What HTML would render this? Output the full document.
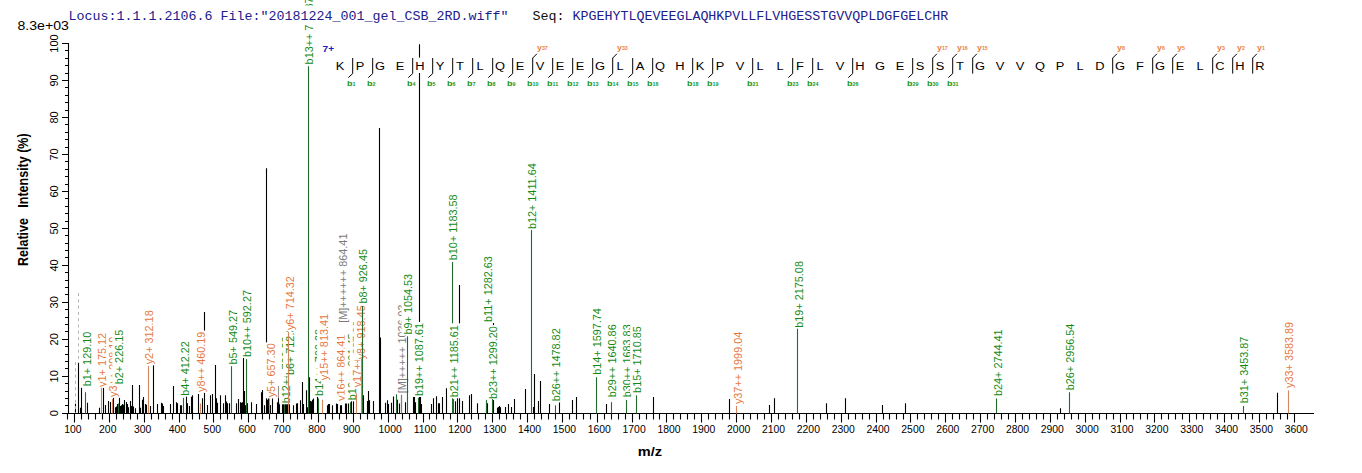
<!DOCTYPE html>
<html><head><meta charset="utf-8"><style>
html,body{margin:0;padding:0;background:#fff;width:1362px;height:473px;overflow:hidden}
svg{display:block}

</style></head><body>
<svg width="1362" height="473" viewBox="0 0 1362 473" font-family="Liberation Sans, sans-serif"><path d="M68.5 43 V413.5 M68 413.5 H1314 M62 413.50 H68.5 M65 405.50 H68.5 M65 398.50 H68.5 M65 391.50 H68.5 M65 383.50 H68.5 M62 376.50 H68.5 M65 368.50 H68.5 M65 361.50 H68.5 M65 354.50 H68.5 M65 346.50 H68.5 M62 339.50 H68.5 M65 331.50 H68.5 M65 324.50 H68.5 M65 317.50 H68.5 M65 309.50 H68.5 M62 302.50 H68.5 M65 294.50 H68.5 M65 287.50 H68.5 M65 280.50 H68.5 M65 272.50 H68.5 M62 265.50 H68.5 M65 257.50 H68.5 M65 250.50 H68.5 M65 243.50 H68.5 M65 235.50 H68.5 M62 228.50 H68.5 M65 221.50 H68.5 M65 213.50 H68.5 M65 206.50 H68.5 M65 198.50 H68.5 M62 191.50 H68.5 M65 184.50 H68.5 M65 176.50 H68.5 M65 169.50 H68.5 M65 161.50 H68.5 M62 154.50 H68.5 M65 147.50 H68.5 M65 139.50 H68.5 M65 132.50 H68.5 M65 124.50 H68.5 M62 117.50 H68.5 M65 110.50 H68.5 M65 102.50 H68.5 M65 95.50 H68.5 M65 87.50 H68.5 M62 80.50 H68.5 M65 73.50 H68.5 M65 65.50 H68.5 M65 58.50 H68.5 M65 50.50 H68.5 M62 43.50 H68.5 M67.50 413.5 V419.5 M74.50 413.5 V422.5 M81.50 413.5 V419.5 M88.50 413.5 V419.5 M95.50 413.5 V419.5 M102.50 413.5 V419.5 M109.50 413.5 V422.5 M116.50 413.5 V419.5 M123.50 413.5 V419.5 M130.50 413.5 V419.5 M137.50 413.5 V419.5 M144.50 413.5 V422.5 M151.50 413.5 V419.5 M158.50 413.5 V419.5 M165.50 413.5 V419.5 M172.50 413.5 V419.5 M179.50 413.5 V422.5 M186.50 413.5 V419.5 M192.50 413.5 V419.5 M199.50 413.5 V419.5 M206.50 413.5 V419.5 M213.50 413.5 V422.5 M220.50 413.5 V419.5 M227.50 413.5 V419.5 M234.50 413.5 V419.5 M241.50 413.5 V419.5 M248.50 413.5 V422.5 M255.50 413.5 V419.5 M262.50 413.5 V419.5 M269.50 413.5 V419.5 M276.50 413.5 V419.5 M283.50 413.5 V422.5 M290.50 413.5 V419.5 M297.50 413.5 V419.5 M304.50 413.5 V419.5 M311.50 413.5 V419.5 M318.50 413.5 V422.5 M325.50 413.5 V419.5 M332.50 413.5 V419.5 M339.50 413.5 V419.5 M346.50 413.5 V419.5 M353.50 413.5 V422.5 M360.50 413.5 V419.5 M367.50 413.5 V419.5 M374.50 413.5 V419.5 M381.50 413.5 V419.5 M388.50 413.5 V422.5 M395.50 413.5 V419.5 M402.50 413.5 V419.5 M409.50 413.5 V419.5 M416.50 413.5 V419.5 M423.50 413.5 V422.5 M429.50 413.5 V419.5 M436.50 413.5 V419.5 M443.50 413.5 V419.5 M450.50 413.5 V419.5 M457.50 413.5 V422.5 M464.50 413.5 V419.5 M471.50 413.5 V419.5 M478.50 413.5 V419.5 M485.50 413.5 V419.5 M492.50 413.5 V422.5 M499.50 413.5 V419.5 M506.50 413.5 V419.5 M513.50 413.5 V419.5 M520.50 413.5 V419.5 M527.50 413.5 V422.5 M534.50 413.5 V419.5 M541.50 413.5 V419.5 M548.50 413.5 V419.5 M555.50 413.5 V419.5 M562.50 413.5 V422.5 M569.50 413.5 V419.5 M576.50 413.5 V419.5 M583.50 413.5 V419.5 M590.50 413.5 V419.5 M597.50 413.5 V422.5 M604.50 413.5 V419.5 M611.50 413.5 V419.5 M618.50 413.5 V419.5 M625.50 413.5 V419.5 M632.50 413.5 V422.5 M639.50 413.5 V419.5 M646.50 413.5 V419.5 M653.50 413.5 V419.5 M659.50 413.5 V419.5 M666.50 413.5 V422.5 M673.50 413.5 V419.5 M680.50 413.5 V419.5 M687.50 413.5 V419.5 M694.50 413.5 V419.5 M701.50 413.5 V422.5 M708.50 413.5 V419.5 M715.50 413.5 V419.5 M722.50 413.5 V419.5 M729.50 413.5 V419.5 M736.50 413.5 V422.5 M743.50 413.5 V419.5 M750.50 413.5 V419.5 M757.50 413.5 V419.5 M764.50 413.5 V419.5 M771.50 413.5 V422.5 M778.50 413.5 V419.5 M785.50 413.5 V419.5 M792.50 413.5 V419.5 M799.50 413.5 V419.5 M806.50 413.5 V422.5 M813.50 413.5 V419.5 M820.50 413.5 V419.5 M827.50 413.5 V419.5 M834.50 413.5 V419.5 M841.50 413.5 V422.5 M848.50 413.5 V419.5 M855.50 413.5 V419.5 M862.50 413.5 V419.5 M869.50 413.5 V419.5 M876.50 413.5 V422.5 M883.50 413.5 V419.5 M889.50 413.5 V419.5 M896.50 413.5 V419.5 M903.50 413.5 V419.5 M910.50 413.5 V422.5 M917.50 413.5 V419.5 M924.50 413.5 V419.5 M931.50 413.5 V419.5 M938.50 413.5 V419.5 M945.50 413.5 V422.5 M952.50 413.5 V419.5 M959.50 413.5 V419.5 M966.50 413.5 V419.5 M973.50 413.5 V419.5 M980.50 413.5 V422.5 M987.50 413.5 V419.5 M994.50 413.5 V419.5 M1001.50 413.5 V419.5 M1008.50 413.5 V419.5 M1015.50 413.5 V422.5 M1022.50 413.5 V419.5 M1029.50 413.5 V419.5 M1036.50 413.5 V419.5 M1043.50 413.5 V419.5 M1050.50 413.5 V422.5 M1057.50 413.5 V419.5 M1064.50 413.5 V419.5 M1071.50 413.5 V419.5 M1078.50 413.5 V419.5 M1085.50 413.5 V422.5 M1092.50 413.5 V419.5 M1099.50 413.5 V419.5 M1106.50 413.5 V419.5 M1113.50 413.5 V419.5 M1120.50 413.5 V422.5 M1126.50 413.5 V419.5 M1133.50 413.5 V419.5 M1140.50 413.5 V419.5 M1147.50 413.5 V419.5 M1154.50 413.5 V422.5 M1161.50 413.5 V419.5 M1168.50 413.5 V419.5 M1175.50 413.5 V419.5 M1182.50 413.5 V419.5 M1189.50 413.5 V422.5 M1196.50 413.5 V419.5 M1203.50 413.5 V419.5 M1210.50 413.5 V419.5 M1217.50 413.5 V419.5 M1224.50 413.5 V422.5 M1231.50 413.5 V419.5 M1238.50 413.5 V419.5 M1245.50 413.5 V419.5 M1252.50 413.5 V419.5 M1259.50 413.5 V422.5 M1266.50 413.5 V419.5 M1273.50 413.5 V419.5 M1280.50 413.5 V419.5 M1287.50 413.5 V419.5 M1294.50 413.5 V422.5" stroke="#000" stroke-width="1.1" fill="none"/>
<g transform="translate(58.3,413.30) rotate(-90)"><text font-size="11" text-anchor="middle" fill="#000">0</text></g>
<g transform="translate(58.3,376.32) rotate(-90)"><text font-size="11" text-anchor="middle" fill="#000">10</text></g>
<g transform="translate(58.3,339.34) rotate(-90)"><text font-size="11" text-anchor="middle" fill="#000">20</text></g>
<g transform="translate(58.3,302.36) rotate(-90)"><text font-size="11" text-anchor="middle" fill="#000">30</text></g>
<g transform="translate(58.3,265.38) rotate(-90)"><text font-size="11" text-anchor="middle" fill="#000">40</text></g>
<g transform="translate(58.3,228.40) rotate(-90)"><text font-size="11" text-anchor="middle" fill="#000">50</text></g>
<g transform="translate(58.3,191.42) rotate(-90)"><text font-size="11" text-anchor="middle" fill="#000">60</text></g>
<g transform="translate(58.3,154.44) rotate(-90)"><text font-size="11" text-anchor="middle" fill="#000">70</text></g>
<g transform="translate(58.3,117.46) rotate(-90)"><text font-size="11" text-anchor="middle" fill="#000">80</text></g>
<g transform="translate(58.3,80.48) rotate(-90)"><text font-size="11" text-anchor="middle" fill="#000">90</text></g>
<g transform="translate(58.3,43.50) rotate(-90)"><text font-size="11" text-anchor="middle" fill="#000">100</text></g>
<g transform="translate(72.90,433.2) scale(1.02,1)"><text font-size="10.2" text-anchor="middle" fill="#000">100</text></g>
<g transform="translate(107.75,433.2) scale(1.02,1)"><text font-size="10.2" text-anchor="middle" fill="#000">200</text></g>
<g transform="translate(142.60,433.2) scale(1.02,1)"><text font-size="10.2" text-anchor="middle" fill="#000">300</text></g>
<g transform="translate(177.45,433.2) scale(1.02,1)"><text font-size="10.2" text-anchor="middle" fill="#000">400</text></g>
<g transform="translate(212.30,433.2) scale(1.02,1)"><text font-size="10.2" text-anchor="middle" fill="#000">500</text></g>
<g transform="translate(247.15,433.2) scale(1.02,1)"><text font-size="10.2" text-anchor="middle" fill="#000">600</text></g>
<g transform="translate(282.00,433.2) scale(1.02,1)"><text font-size="10.2" text-anchor="middle" fill="#000">700</text></g>
<g transform="translate(316.85,433.2) scale(1.02,1)"><text font-size="10.2" text-anchor="middle" fill="#000">800</text></g>
<g transform="translate(351.70,433.2) scale(1.02,1)"><text font-size="10.2" text-anchor="middle" fill="#000">900</text></g>
<g transform="translate(390.15,433.2) scale(1.02,1)"><text font-size="10.2" text-anchor="middle" fill="#000">1000</text></g>
<g transform="translate(425.00,433.2) scale(1.02,1)"><text font-size="10.2" text-anchor="middle" fill="#000">1100</text></g>
<g transform="translate(459.85,433.2) scale(1.02,1)"><text font-size="10.2" text-anchor="middle" fill="#000">1200</text></g>
<g transform="translate(494.70,433.2) scale(1.02,1)"><text font-size="10.2" text-anchor="middle" fill="#000">1300</text></g>
<g transform="translate(529.55,433.2) scale(1.02,1)"><text font-size="10.2" text-anchor="middle" fill="#000">1400</text></g>
<g transform="translate(564.40,433.2) scale(1.02,1)"><text font-size="10.2" text-anchor="middle" fill="#000">1500</text></g>
<g transform="translate(599.25,433.2) scale(1.02,1)"><text font-size="10.2" text-anchor="middle" fill="#000">1600</text></g>
<g transform="translate(634.10,433.2) scale(1.02,1)"><text font-size="10.2" text-anchor="middle" fill="#000">1700</text></g>
<g transform="translate(668.95,433.2) scale(1.02,1)"><text font-size="10.2" text-anchor="middle" fill="#000">1800</text></g>
<g transform="translate(703.80,433.2) scale(1.02,1)"><text font-size="10.2" text-anchor="middle" fill="#000">1900</text></g>
<g transform="translate(738.65,433.2) scale(1.02,1)"><text font-size="10.2" text-anchor="middle" fill="#000">2000</text></g>
<g transform="translate(773.50,433.2) scale(1.02,1)"><text font-size="10.2" text-anchor="middle" fill="#000">2100</text></g>
<g transform="translate(808.35,433.2) scale(1.02,1)"><text font-size="10.2" text-anchor="middle" fill="#000">2200</text></g>
<g transform="translate(843.20,433.2) scale(1.02,1)"><text font-size="10.2" text-anchor="middle" fill="#000">2300</text></g>
<g transform="translate(878.05,433.2) scale(1.02,1)"><text font-size="10.2" text-anchor="middle" fill="#000">2400</text></g>
<g transform="translate(912.90,433.2) scale(1.02,1)"><text font-size="10.2" text-anchor="middle" fill="#000">2500</text></g>
<g transform="translate(947.75,433.2) scale(1.02,1)"><text font-size="10.2" text-anchor="middle" fill="#000">2600</text></g>
<g transform="translate(982.60,433.2) scale(1.02,1)"><text font-size="10.2" text-anchor="middle" fill="#000">2700</text></g>
<g transform="translate(1017.45,433.2) scale(1.02,1)"><text font-size="10.2" text-anchor="middle" fill="#000">2800</text></g>
<g transform="translate(1052.30,433.2) scale(1.02,1)"><text font-size="10.2" text-anchor="middle" fill="#000">2900</text></g>
<g transform="translate(1087.15,433.2) scale(1.02,1)"><text font-size="10.2" text-anchor="middle" fill="#000">3000</text></g>
<g transform="translate(1122.00,433.2) scale(1.02,1)"><text font-size="10.2" text-anchor="middle" fill="#000">3100</text></g>
<g transform="translate(1156.85,433.2) scale(1.02,1)"><text font-size="10.2" text-anchor="middle" fill="#000">3200</text></g>
<g transform="translate(1191.70,433.2) scale(1.02,1)"><text font-size="10.2" text-anchor="middle" fill="#000">3300</text></g>
<g transform="translate(1226.55,433.2) scale(1.02,1)"><text font-size="10.2" text-anchor="middle" fill="#000">3400</text></g>
<g transform="translate(1261.40,433.2) scale(1.02,1)"><text font-size="10.2" text-anchor="middle" fill="#000">3500</text></g>
<g transform="translate(1296.25,433.2) scale(1.02,1)"><text font-size="10.2" text-anchor="middle" fill="#000">3600</text></g>
<path d="M75.50 413.5 V403.82 M78.50 413.5 V362.87 M80.50 413.5 V407.81 M81.50 413.5 V387.84 M87.50 413.5 V402.82 M99.50 413.5 V407.81 M103.50 413.5 V385.96 M105.50 413.5 V404.94 M108.50 413.5 V400.94 M110.50 413.5 V401.94 M113.50 413.5 V396.95 M115.50 413.5 V407.19 M116.50 413.5 V406.56 M117.50 413.5 V404.06 M119.50 413.5 V396.95 M120.50 413.5 V405.94 M121.50 413.5 V405.31 M122.50 413.5 V404.06 M123.50 413.5 V404.69 M124.50 413.5 V399.95 M126.50 413.5 V401.94 M127.50 413.5 V404.06 M128.50 413.5 V407.19 M130.50 413.5 V400.94 M131.50 413.5 V405.94 M132.50 413.5 V384.96 M133.50 413.5 V406.56 M135.50 413.5 V408.18 M139.50 413.5 V384.96 M140.50 413.5 V407.81 M142.50 413.5 V399.70 M143.50 413.5 V396.95 M145.50 413.5 V404.06 M146.50 413.5 V404.69 M150.50 413.5 V405.94 M153.50 413.5 V364.11 M157.50 413.5 V404.06 M161.50 413.5 V402.82 M162.50 413.5 V403.44 M163.50 413.5 V405.94 M170.50 413.5 V404.06 M173.50 413.5 V385.96 M176.50 413.5 V402.19 M177.50 413.5 V403.19 M180.50 413.5 V405.31 M181.50 413.5 V405.31 M186.50 413.5 V395.33 M187.50 413.5 V403.19 M189.50 413.5 V405.94 M191.50 413.5 V395.33 M192.50 413.5 V395.33 M198.50 413.5 V394.08 M202.50 413.5 V398.20 M207.50 413.5 V404.94 M210.50 413.5 V395.33 M212.50 413.5 V394.08 M215.50 413.5 V364.99 M216.50 413.5 V398.20 M217.50 413.5 V402.82 M220.50 413.5 V395.33 M223.50 413.5 V403.19 M225.50 413.5 V395.33 M226.50 413.5 V401.57 M227.50 413.5 V403.19 M229.50 413.5 V403.19 M236.50 413.5 V403.19 M204.50 413.5 V312.00 M236.50 413.5 V403.19 M238.50 413.5 V399.07 M240.50 413.5 V402.19 M241.50 413.5 V402.82 M242.50 413.5 V402.19 M243.50 413.5 V357.00 M244.50 413.5 V390.96 M245.50 413.5 V405.31 M247.50 413.5 V403.19 M251.50 413.5 V402.19 M256.50 413.5 V404.06 M261.50 413.5 V392.20 M262.50 413.5 V389.96 M264.50 413.5 V405.31 M266.50 413.5 V398.45 M267.50 413.5 V399.70 M268.50 413.5 V398.20 M270.50 413.5 V404.94 M272.50 413.5 V398.20 M277.50 413.5 V402.19 M278.50 413.5 V385.96 M279.50 413.5 V402.44 M282.50 413.5 V404.06 M283.50 413.5 V400.32 M285.50 413.5 V402.19 M286.50 413.5 V402.19 M287.50 413.5 V402.44 M289.50 413.5 V402.44 M293.50 413.5 V405.31 M296.50 413.5 V403.44 M297.50 413.5 V403.19 M300.50 413.5 V400.32 M302.50 413.5 V381.97 M303.50 413.5 V404.06 M306.50 413.5 V390.33 M307.50 413.5 V407.19 M309.50 413.5 V377.22 M310.50 413.5 V400.94 M311.50 413.5 V401.57 M312.50 413.5 V399.70 M313.50 413.5 V398.45 M317.50 413.5 V396.20 M266.50 413.5 V168.30 M327.50 413.5 V405.31 M328.50 413.5 V404.06 M329.50 413.5 V404.06 M332.50 413.5 V405.31 M336.50 413.5 V403.44 M337.50 413.5 V404.06 M340.50 413.5 V405.31 M341.50 413.5 V405.31 M345.50 413.5 V403.44 M346.50 413.5 V403.44 M346.50 413.5 V404.06 M348.50 413.5 V403.44 M351.50 413.5 V400.94 M353.50 413.5 V400.94 M363.50 413.5 V395.33 M367.50 413.5 V400.94 M368.50 413.5 V390.96 M369.50 413.5 V400.32 M373.50 413.5 V400.94 M385.50 413.5 V402.82 M387.50 413.5 V400.32 M388.50 413.5 V404.06 M391.50 413.5 V402.82 M393.50 413.5 V396.57 M397.50 413.5 V399.70 M399.50 413.5 V403.44 M379.50 413.5 V128.00 M380.50 413.5 V337.60 M401.50 413.5 V395.33 M405.50 413.5 V402.19 M413.50 413.5 V395.95 M414.50 413.5 V396.20 M415.50 413.5 V402.19 M420.50 413.5 V395.95 M421.50 413.5 V404.06 M431.50 413.5 V404.06 M433.50 413.5 V398.20 M436.50 413.5 V396.20 M438.50 413.5 V403.19 M439.50 413.5 V403.19 M442.50 413.5 V396.95 M446.50 413.5 V388.21 M455.50 413.5 V401.19 M457.50 413.5 V397.20 M462.50 413.5 V400.94 M469.50 413.5 V395.33 M471.50 413.5 V394.08 M477.50 413.5 V403.19 M419.50 413.5 V44.30 M459.50 413.5 V285.00 M486.50 413.5 V403.19 M493.50 413.5 V399.70 M497.50 413.5 V407.81 M498.50 413.5 V406.94 M499.50 413.5 V405.94 M500.50 413.5 V407.19 M505.50 413.5 V406.94 M508.50 413.5 V404.06 M511.50 413.5 V406.94 M514.50 413.5 V399.07 M525.50 413.5 V389.08 M533.50 413.5 V406.94 M534.50 413.5 V374.10 M538.50 413.5 V400.94 M540.50 413.5 V380.97 M549.50 413.5 V404.06 M559.50 413.5 V402.19 M572.50 413.5 V399.95 M576.50 413.5 V396.95 M606.50 413.5 V404.06 M653.50 413.5 V396.95 M729.50 413.5 V399.07 M769.50 413.5 V404.94 M774.50 413.5 V398.20 M826.50 413.5 V403.19 M845.50 413.5 V398.20 M882.50 413.5 V405.06 M905.50 413.5 V403.19 M1060.50 413.5 V408.18 M1277.50 413.5 V392.83 M493.50 413.5 V322.60 M487.50 413.5 V403.20" stroke="#000" stroke-width="1.1" fill="none"/>
<path d="M78.5 293 V362" stroke="#b4b4b4" stroke-width="1" stroke-dasharray="3 3.3" fill="none"/>
<path d="M75.5 362 V413" stroke="#b4b4b4" stroke-width="1" stroke-dasharray="3 3.3" fill="none"/>
<g transform="translate(90.80,386.30) scale(1.0,1) rotate(-90)"><rect x="-1" y="-10.85" width="56.60" height="14.11" fill="#fff"/><text font-size="10.85" fill="#118a14" xml:space="preserve">b1+ 129.10</text></g>
<path d="M85.50 413.5 V392.20" stroke="#236a2c" stroke-width="1.1" fill="none"/>
<g transform="translate(106.00,386.90) scale(1.0,1) rotate(-90)"><rect x="-1" y="-10.85" width="56.00" height="14.11" fill="#fff"/><text font-size="10.85" fill="#e6773c" xml:space="preserve">y1+ 175.12</text></g>
<path d="M101.50 413.5 V387.84" stroke="#d2875f" stroke-width="1.1" fill="none"/>
<g transform="translate(117.40,396.90) scale(1.0,1) rotate(-90)"><rect x="-1" y="-10.85" width="62.33" height="14.11" fill="#fff"/><text font-size="10.85" fill="#e6773c" xml:space="preserve">y3++ 208.10</text></g>
<path d="M112.50 413.5 V399.07" stroke="#d2875f" stroke-width="1.1" fill="none"/>
<path d="M118.50 413.5 V403.44" stroke="#236a2c" stroke-width="1.1" fill="none"/>
<g transform="translate(123.20,384.30) scale(1.0,1) rotate(-90)"><rect x="-1" y="-10.85" width="56.60" height="14.11" fill="#fff"/><text font-size="10.85" fill="#118a14" xml:space="preserve">b2+ 226.15</text></g>
<g transform="translate(153.00,364.30) scale(1.0,1) rotate(-90)"><rect x="-1" y="-10.85" width="56.00" height="14.11" fill="#fff"/><text font-size="10.85" fill="#e6773c" xml:space="preserve">y2+ 312.18</text></g>
<path d="M148.50 413.5 V365.99" stroke="#d2875f" stroke-width="1.1" fill="none"/>
<g transform="translate(188.80,395.70) scale(1.0,1) rotate(-90)"><rect x="-1" y="-10.85" width="56.60" height="14.11" fill="#fff"/><text font-size="10.85" fill="#118a14" xml:space="preserve">b4+ 412.22</text></g>
<path d="M183.50 413.5 V397.82" stroke="#236a2c" stroke-width="1.1" fill="none"/>
<g transform="translate(205.00,391.90) scale(1.0,1) rotate(-90)"><rect x="-1" y="-10.85" width="62.33" height="14.11" fill="#fff"/><text font-size="10.85" fill="#e6773c" xml:space="preserve">y8++ 460.19</text></g>
<path d="M200.50 413.5 V403.44" stroke="#d2875f" stroke-width="1.1" fill="none"/>
<g transform="translate(236.80,364.50) scale(1.0,1) rotate(-90)"><rect x="-1" y="-10.85" width="56.60" height="14.11" fill="#fff"/><text font-size="10.85" fill="#118a14" xml:space="preserve">b5+ 549.27</text></g>
<path d="M231.50 413.5 V366.24" stroke="#236a2c" stroke-width="1.1" fill="none"/>
<g transform="translate(251.20,357.00) scale(1.0,1) rotate(-90)"><rect x="-1" y="-10.85" width="68.98" height="14.11" fill="#fff"/><text font-size="10.85" fill="#118a14" xml:space="preserve">b10++ 592.27</text></g>
<path d="M246.50 413.5 V359.12" stroke="#236a2c" stroke-width="1.1" fill="none"/>
<g transform="translate(275.30,397.30) scale(1.0,1) rotate(-90)"><rect x="-1" y="-10.85" width="56.00" height="14.11" fill="#fff"/><text font-size="10.85" fill="#e6773c" xml:space="preserve">y5+ 657.30</text></g>
<path d="M269.50 413.5 V398.45" stroke="#d2875f" stroke-width="1.1" fill="none"/>
<path d="M284.50 413.5 V404.06" stroke="#236a2c" stroke-width="1.1" fill="none"/>
<g transform="translate(290.10,403.30) scale(1.0,1) rotate(-90)"><rect x="-1" y="-10.85" width="68.98" height="14.11" fill="#fff"/><text font-size="10.85" fill="#118a14" xml:space="preserve">b12++ 706.33</text></g>
<g transform="translate(293.80,375.10) scale(1.0,1) rotate(-90)"><rect x="-1" y="-10.85" width="56.60" height="14.11" fill="#fff"/><text font-size="10.85" fill="#118a14" xml:space="preserve">b6+ 712.34</text></g>
<g transform="translate(293.80,330.10) scale(1.0,1) rotate(-90)"><rect x="-1" y="-10.85" width="56.00" height="14.11" fill="#fff"/><text font-size="10.85" fill="#e6773c" xml:space="preserve">y6+ 714.32</text></g>
<path d="M288.50 413.5 V332.00" stroke="#d2875f" stroke-width="1.1" fill="none"/>
<g transform="translate(313.00,64.40) scale(1.0,1) rotate(-90)"><rect x="-1" y="-10.85" width="68.98" height="14.11" fill="#fff"/><text font-size="10.85" fill="#118a14" xml:space="preserve">b13++ 770.87</text></g>
<path d="M308.50 413.5 V66.20" stroke="#236a2c" stroke-width="1.1" fill="none"/>
<g transform="translate(323.00,395.90) scale(1.0,1) rotate(-90)"><rect x="-1" y="-10.85" width="68.98" height="14.11" fill="#fff"/><text font-size="10.85" fill="#118a14" xml:space="preserve">b14++ 799.38</text></g>
<path d="M318.50 413.5 V398.45" stroke="#236a2c" stroke-width="1.1" fill="none"/>
<path d="M322.50 413.5 V399.70" stroke="#d2875f" stroke-width="1.1" fill="none"/>
<g transform="translate(328.00,380.30) scale(1.0,1) rotate(-90)"><rect x="-1" y="-10.85" width="68.37" height="14.11" fill="#fff"/><text font-size="10.85" fill="#e6773c" xml:space="preserve">y15++ 813.41</text></g>
<g transform="translate(345.00,401.00) scale(1.0,1) rotate(-90)"><rect x="-1" y="-10.85" width="68.37" height="14.11" fill="#fff"/><text font-size="10.85" fill="#e6773c" xml:space="preserve">y16++ 864.41</text></g>
<g transform="translate(347.00,322.80) scale(1.0,1) rotate(-90)"><rect x="-1" y="-10.85" width="91.28" height="14.11" fill="#fff"/><text font-size="10.85" fill="#7a7a7a" xml:space="preserve">[M]++++++ 864.41</text></g>
<g transform="translate(355.50,400.30) scale(1.0,1) rotate(-90)"><rect x="-1" y="-10.85" width="68.98" height="14.11" fill="#fff"/><text font-size="10.85" fill="#118a14" xml:space="preserve">b16++ 891.45</text></g>
<path d="M350.50 413.5 V402.19" stroke="#236a2c" stroke-width="1.1" fill="none"/>
<g transform="translate(360.50,387.30) scale(1.0,1) rotate(-90)"><rect x="-1" y="-10.85" width="68.37" height="14.11" fill="#fff"/><text font-size="10.85" fill="#e6773c" xml:space="preserve">y17++ 907.96</text></g>
<path d="M356.50 413.5 V393.45" stroke="#d2875f" stroke-width="1.1" fill="none"/>
<g transform="translate(364.80,359.30) scale(1.0,1) rotate(-90)"><rect x="-1" y="-10.85" width="56.00" height="14.11" fill="#fff"/><text font-size="10.85" fill="#e6773c" xml:space="preserve">y8+ 918.45</text></g>
<path d="M361.50 413.5 V358.50" stroke="#d2875f" stroke-width="1.1" fill="none"/>
<path d="M362.50 413.5 V306.00" stroke="#236a2c" stroke-width="1.1" fill="none"/>
<g transform="translate(367.20,303.60) scale(1.0,1) rotate(-90)"><rect x="-1" y="-10.85" width="56.60" height="14.11" fill="#fff"/><text font-size="10.85" fill="#118a14" xml:space="preserve">b8+ 926.45</text></g>
<path d="M396.50 413.5 V392.83" stroke="#236a2c" stroke-width="1.1" fill="none"/>
<g transform="translate(406.00,393.30) scale(1.0,1) rotate(-90)"><rect x="-1" y="-10.85" width="90.98" height="14.11" fill="#fff"/><text font-size="10.85" fill="#7a7a7a" xml:space="preserve">[M]+++++ 1036.93</text></g>
<path d="M401.50 413.5 V394.70" stroke="#808080" stroke-width="1.1" fill="none"/>
<g transform="translate(412.30,334.50) scale(1.0,1) rotate(-90)"><rect x="-1" y="-10.85" width="62.64" height="14.11" fill="#fff"/><text font-size="10.85" fill="#118a14" xml:space="preserve">b9+ 1054.53</text></g>
<path d="M407.50 413.5 V336.30" stroke="#236a2c" stroke-width="1.1" fill="none"/>
<path d="M418.50 413.5 V397.82" stroke="#236a2c" stroke-width="1.1" fill="none"/>
<g transform="translate(423.30,396.00) scale(1.0,1) rotate(-90)"><rect x="-1" y="-10.85" width="75.01" height="14.11" fill="#fff"/><text font-size="10.85" fill="#118a14" xml:space="preserve">b19++ 1087.61</text></g>
<g transform="translate(457.40,260.20) scale(1.0,1) rotate(-90)"><rect x="-1" y="-10.85" width="68.67" height="14.11" fill="#fff"/><text font-size="10.85" fill="#118a14" xml:space="preserve">b10+ 1183.58</text></g>
<path d="M452.50 413.5 V262.00" stroke="#236a2c" stroke-width="1.1" fill="none"/>
<g transform="translate(458.00,397.30) scale(1.0,1) rotate(-90)"><rect x="-1" y="-10.85" width="75.01" height="14.11" fill="#fff"/><text font-size="10.85" fill="#118a14" xml:space="preserve">b21++ 1185.61</text></g>
<path d="M453.50 413.5 V399.07" stroke="#236a2c" stroke-width="1.1" fill="none"/>
<path d="M486.50 413.5 V399.07" stroke="#236a2c" stroke-width="1.1" fill="none"/>
<g transform="translate(491.60,322.00) scale(1.0,1) rotate(-90)"><rect x="-1" y="-10.85" width="68.67" height="14.11" fill="#fff"/><text font-size="10.85" fill="#118a14" xml:space="preserve">b11+ 1282.63</text></g>
<g transform="translate(497.00,399.10) scale(1.0,1) rotate(-90)"><rect x="-1" y="-10.85" width="75.01" height="14.11" fill="#fff"/><text font-size="10.85" fill="#118a14" xml:space="preserve">b23++ 1299.20</text></g>
<path d="M492.50 413.5 V399.07" stroke="#236a2c" stroke-width="1.1" fill="none"/>
<g transform="translate(536.00,229.10) scale(1.0,1) rotate(-90)"><rect x="-1" y="-10.85" width="68.67" height="14.11" fill="#fff"/><text font-size="10.85" fill="#118a14" xml:space="preserve">b12+ 1411.64</text></g>
<path d="M531.50 413.5 V230.00" stroke="#236a2c" stroke-width="1.1" fill="none"/>
<g transform="translate(560.30,401.30) scale(1.0,1) rotate(-90)"><rect x="-1" y="-10.85" width="75.01" height="14.11" fill="#fff"/><text font-size="10.85" fill="#118a14" xml:space="preserve">b26++ 1478.82</text></g>
<path d="M555.50 413.5 V405.31" stroke="#236a2c" stroke-width="1.1" fill="none"/>
<g transform="translate(601.00,374.80) scale(1.0,1) rotate(-90)"><rect x="-1" y="-10.85" width="68.67" height="14.11" fill="#fff"/><text font-size="10.85" fill="#118a14" xml:space="preserve">b14+ 1597.74</text></g>
<path d="M596.50 413.5 V377.22" stroke="#236a2c" stroke-width="1.1" fill="none"/>
<path d="M611.50 413.5 V402.19" stroke="#236a2c" stroke-width="1.1" fill="none"/>
<g transform="translate(615.50,397.30) scale(1.0,1) rotate(-90)"><rect x="-1" y="-10.85" width="75.01" height="14.11" fill="#fff"/><text font-size="10.85" fill="#118a14" xml:space="preserve">b29++ 1640.86</text></g>
<path d="M626.50 413.5 V399.95" stroke="#236a2c" stroke-width="1.1" fill="none"/>
<g transform="translate(630.80,397.30) scale(1.0,1) rotate(-90)"><rect x="-1" y="-10.85" width="75.01" height="14.11" fill="#fff"/><text font-size="10.85" fill="#118a14" xml:space="preserve">b30++ 1683.83</text></g>
<g transform="translate(641.00,392.90) scale(1.0,1) rotate(-90)"><rect x="-1" y="-10.85" width="68.67" height="14.11" fill="#fff"/><text font-size="10.85" fill="#118a14" xml:space="preserve">b15+ 1710.85</text></g>
<path d="M636.50 413.5 V395.33" stroke="#236a2c" stroke-width="1.1" fill="none"/>
<g transform="translate(742.10,404.10) scale(1.0,1) rotate(-90)"><rect x="-1" y="-10.85" width="74.40" height="14.11" fill="#fff"/><text font-size="10.85" fill="#e6773c" xml:space="preserve">y37++ 1999.04</text></g>
<path d="M736.50 413.5 V405.94" stroke="#d2875f" stroke-width="1.1" fill="none"/>
<path d="M797.50 413.5 V328.00" stroke="#236a2c" stroke-width="1.1" fill="none"/>
<g transform="translate(803.00,327.70) scale(1.0,1) rotate(-90)"><rect x="-1" y="-10.85" width="68.67" height="14.11" fill="#fff"/><text font-size="10.85" fill="#118a14" xml:space="preserve">b19+ 2175.08</text></g>
<g transform="translate(1001.80,396.00) scale(1.0,1) rotate(-90)"><rect x="-1" y="-10.85" width="68.67" height="14.11" fill="#fff"/><text font-size="10.85" fill="#118a14" xml:space="preserve">b24+ 2744.41</text></g>
<path d="M996.50 413.5 V398.45" stroke="#236a2c" stroke-width="1.1" fill="none"/>
<path d="M1069.50 413.5 V392.20" stroke="#236a2c" stroke-width="1.1" fill="none"/>
<g transform="translate(1074.30,390.30) scale(1.0,1) rotate(-90)"><rect x="-1" y="-10.85" width="68.67" height="14.11" fill="#fff"/><text font-size="10.85" fill="#118a14" xml:space="preserve">b26+ 2956.54</text></g>
<g transform="translate(1248.10,403.30) scale(1.0,1) rotate(-90)"><rect x="-1" y="-10.85" width="68.67" height="14.11" fill="#fff"/><text font-size="10.85" fill="#118a14" xml:space="preserve">b31+ 3453.87</text></g>
<path d="M1243.50 413.5 V405.94" stroke="#236a2c" stroke-width="1.1" fill="none"/>
<path d="M1288.50 413.5 V390.33" stroke="#d2875f" stroke-width="1.1" fill="none"/>
<g transform="translate(1293.00,387.90) scale(1.0,1) rotate(-90)"><rect x="-1" y="-10.85" width="68.06" height="14.11" fill="#fff"/><text font-size="10.85" fill="#e6773c" xml:space="preserve">y33+ 3583.89</text></g>
<g transform="translate(322.6,52.4) scale(1.12,1)"><text font-size="9" font-weight="bold" fill="#2020c0">7+</text></g>
<rect x="334.00" y="57.6" width="12" height="15.4" fill="#fff"/>
<g transform="translate(340.00,69.8) scale(1.12,1)"><text font-size="11.5" text-anchor="middle" fill="#000">K</text></g>
<rect x="354.00" y="57.6" width="12" height="15.4" fill="#fff"/>
<g transform="translate(360.00,69.8) scale(1.12,1)"><text font-size="11.5" text-anchor="middle" fill="#000">P</text></g>
<rect x="374.00" y="57.6" width="12" height="15.4" fill="#fff"/>
<g transform="translate(380.00,69.8) scale(1.12,1)"><text font-size="11.5" text-anchor="middle" fill="#000">G</text></g>
<rect x="394.00" y="57.6" width="12" height="15.4" fill="#fff"/>
<g transform="translate(400.00,69.8) scale(1.12,1)"><text font-size="11.5" text-anchor="middle" fill="#000">E</text></g>
<rect x="414.00" y="57.6" width="12" height="15.4" fill="#fff"/>
<g transform="translate(420.00,69.8) scale(1.12,1)"><text font-size="11.5" text-anchor="middle" fill="#000">H</text></g>
<rect x="434.00" y="57.6" width="12" height="15.4" fill="#fff"/>
<g transform="translate(440.00,69.8) scale(1.12,1)"><text font-size="11.5" text-anchor="middle" fill="#000">Y</text></g>
<rect x="454.00" y="57.6" width="12" height="15.4" fill="#fff"/>
<g transform="translate(460.00,69.8) scale(1.12,1)"><text font-size="11.5" text-anchor="middle" fill="#000">T</text></g>
<rect x="474.00" y="57.6" width="12" height="15.4" fill="#fff"/>
<g transform="translate(480.00,69.8) scale(1.12,1)"><text font-size="11.5" text-anchor="middle" fill="#000">L</text></g>
<rect x="494.00" y="57.6" width="12" height="15.4" fill="#fff"/>
<g transform="translate(500.00,69.8) scale(1.12,1)"><text font-size="11.5" text-anchor="middle" fill="#000">Q</text></g>
<rect x="514.00" y="57.6" width="12" height="15.4" fill="#fff"/>
<g transform="translate(520.00,69.8) scale(1.12,1)"><text font-size="11.5" text-anchor="middle" fill="#000">E</text></g>
<rect x="534.00" y="57.6" width="12" height="15.4" fill="#fff"/>
<g transform="translate(540.00,69.8) scale(1.12,1)"><text font-size="11.5" text-anchor="middle" fill="#000">V</text></g>
<rect x="554.00" y="57.6" width="12" height="15.4" fill="#fff"/>
<g transform="translate(560.00,69.8) scale(1.12,1)"><text font-size="11.5" text-anchor="middle" fill="#000">E</text></g>
<rect x="574.00" y="57.6" width="12" height="15.4" fill="#fff"/>
<g transform="translate(580.00,69.8) scale(1.12,1)"><text font-size="11.5" text-anchor="middle" fill="#000">E</text></g>
<rect x="594.00" y="57.6" width="12" height="15.4" fill="#fff"/>
<g transform="translate(600.00,69.8) scale(1.12,1)"><text font-size="11.5" text-anchor="middle" fill="#000">G</text></g>
<rect x="614.00" y="57.6" width="12" height="15.4" fill="#fff"/>
<g transform="translate(620.00,69.8) scale(1.12,1)"><text font-size="11.5" text-anchor="middle" fill="#000">L</text></g>
<rect x="634.00" y="57.6" width="12" height="15.4" fill="#fff"/>
<g transform="translate(640.00,69.8) scale(1.12,1)"><text font-size="11.5" text-anchor="middle" fill="#000">A</text></g>
<rect x="654.00" y="57.6" width="12" height="15.4" fill="#fff"/>
<g transform="translate(660.00,69.8) scale(1.12,1)"><text font-size="11.5" text-anchor="middle" fill="#000">Q</text></g>
<rect x="674.00" y="57.6" width="12" height="15.4" fill="#fff"/>
<g transform="translate(680.00,69.8) scale(1.12,1)"><text font-size="11.5" text-anchor="middle" fill="#000">H</text></g>
<rect x="694.00" y="57.6" width="12" height="15.4" fill="#fff"/>
<g transform="translate(700.00,69.8) scale(1.12,1)"><text font-size="11.5" text-anchor="middle" fill="#000">K</text></g>
<rect x="714.00" y="57.6" width="12" height="15.4" fill="#fff"/>
<g transform="translate(720.00,69.8) scale(1.12,1)"><text font-size="11.5" text-anchor="middle" fill="#000">P</text></g>
<rect x="734.00" y="57.6" width="12" height="15.4" fill="#fff"/>
<g transform="translate(740.00,69.8) scale(1.12,1)"><text font-size="11.5" text-anchor="middle" fill="#000">V</text></g>
<rect x="754.00" y="57.6" width="12" height="15.4" fill="#fff"/>
<g transform="translate(760.00,69.8) scale(1.12,1)"><text font-size="11.5" text-anchor="middle" fill="#000">L</text></g>
<rect x="774.00" y="57.6" width="12" height="15.4" fill="#fff"/>
<g transform="translate(780.00,69.8) scale(1.12,1)"><text font-size="11.5" text-anchor="middle" fill="#000">L</text></g>
<rect x="794.00" y="57.6" width="12" height="15.4" fill="#fff"/>
<g transform="translate(800.00,69.8) scale(1.12,1)"><text font-size="11.5" text-anchor="middle" fill="#000">F</text></g>
<rect x="814.00" y="57.6" width="12" height="15.4" fill="#fff"/>
<g transform="translate(820.00,69.8) scale(1.12,1)"><text font-size="11.5" text-anchor="middle" fill="#000">L</text></g>
<rect x="834.00" y="57.6" width="12" height="15.4" fill="#fff"/>
<g transform="translate(840.00,69.8) scale(1.12,1)"><text font-size="11.5" text-anchor="middle" fill="#000">V</text></g>
<rect x="854.00" y="57.6" width="12" height="15.4" fill="#fff"/>
<g transform="translate(860.00,69.8) scale(1.12,1)"><text font-size="11.5" text-anchor="middle" fill="#000">H</text></g>
<rect x="874.00" y="57.6" width="12" height="15.4" fill="#fff"/>
<g transform="translate(880.00,69.8) scale(1.12,1)"><text font-size="11.5" text-anchor="middle" fill="#000">G</text></g>
<rect x="894.00" y="57.6" width="12" height="15.4" fill="#fff"/>
<g transform="translate(900.00,69.8) scale(1.12,1)"><text font-size="11.5" text-anchor="middle" fill="#000">E</text></g>
<rect x="914.00" y="57.6" width="12" height="15.4" fill="#fff"/>
<g transform="translate(920.00,69.8) scale(1.12,1)"><text font-size="11.5" text-anchor="middle" fill="#000">S</text></g>
<rect x="934.00" y="57.6" width="12" height="15.4" fill="#fff"/>
<g transform="translate(940.00,69.8) scale(1.12,1)"><text font-size="11.5" text-anchor="middle" fill="#000">S</text></g>
<rect x="954.00" y="57.6" width="12" height="15.4" fill="#fff"/>
<g transform="translate(960.00,69.8) scale(1.12,1)"><text font-size="11.5" text-anchor="middle" fill="#000">T</text></g>
<rect x="974.00" y="57.6" width="12" height="15.4" fill="#fff"/>
<g transform="translate(980.00,69.8) scale(1.12,1)"><text font-size="11.5" text-anchor="middle" fill="#000">G</text></g>
<rect x="994.00" y="57.6" width="12" height="15.4" fill="#fff"/>
<g transform="translate(1000.00,69.8) scale(1.12,1)"><text font-size="11.5" text-anchor="middle" fill="#000">V</text></g>
<rect x="1014.00" y="57.6" width="12" height="15.4" fill="#fff"/>
<g transform="translate(1020.00,69.8) scale(1.12,1)"><text font-size="11.5" text-anchor="middle" fill="#000">V</text></g>
<rect x="1034.00" y="57.6" width="12" height="15.4" fill="#fff"/>
<g transform="translate(1040.00,69.8) scale(1.12,1)"><text font-size="11.5" text-anchor="middle" fill="#000">Q</text></g>
<rect x="1054.00" y="57.6" width="12" height="15.4" fill="#fff"/>
<g transform="translate(1060.00,69.8) scale(1.12,1)"><text font-size="11.5" text-anchor="middle" fill="#000">P</text></g>
<rect x="1074.00" y="57.6" width="12" height="15.4" fill="#fff"/>
<g transform="translate(1080.00,69.8) scale(1.12,1)"><text font-size="11.5" text-anchor="middle" fill="#000">L</text></g>
<rect x="1094.00" y="57.6" width="12" height="15.4" fill="#fff"/>
<g transform="translate(1100.00,69.8) scale(1.12,1)"><text font-size="11.5" text-anchor="middle" fill="#000">D</text></g>
<rect x="1114.00" y="57.6" width="12" height="15.4" fill="#fff"/>
<g transform="translate(1120.00,69.8) scale(1.12,1)"><text font-size="11.5" text-anchor="middle" fill="#000">G</text></g>
<rect x="1134.00" y="57.6" width="12" height="15.4" fill="#fff"/>
<g transform="translate(1140.00,69.8) scale(1.12,1)"><text font-size="11.5" text-anchor="middle" fill="#000">F</text></g>
<rect x="1154.00" y="57.6" width="12" height="15.4" fill="#fff"/>
<g transform="translate(1160.00,69.8) scale(1.12,1)"><text font-size="11.5" text-anchor="middle" fill="#000">G</text></g>
<rect x="1174.00" y="57.6" width="12" height="15.4" fill="#fff"/>
<g transform="translate(1180.00,69.8) scale(1.12,1)"><text font-size="11.5" text-anchor="middle" fill="#000">E</text></g>
<rect x="1194.00" y="57.6" width="12" height="15.4" fill="#fff"/>
<g transform="translate(1200.00,69.8) scale(1.12,1)"><text font-size="11.5" text-anchor="middle" fill="#000">L</text></g>
<rect x="1214.00" y="57.6" width="12" height="15.4" fill="#fff"/>
<g transform="translate(1220.00,69.8) scale(1.12,1)"><text font-size="11.5" text-anchor="middle" fill="#000">C</text></g>
<rect x="1234.00" y="57.6" width="12" height="15.4" fill="#fff"/>
<g transform="translate(1240.00,69.8) scale(1.12,1)"><text font-size="11.5" text-anchor="middle" fill="#000">H</text></g>
<rect x="1254.00" y="57.6" width="12" height="15.4" fill="#fff"/>
<g transform="translate(1260.00,69.8) scale(1.12,1)"><text font-size="11.5" text-anchor="middle" fill="#000">R</text></g>
<g transform="translate(347.10,86.2) scale(1.12,1)"><text font-size="8" font-weight="bold" fill="#17941a">b<tspan font-size="4.8">1</tspan></text></g>
<g transform="translate(367.10,86.2) scale(1.12,1)"><text font-size="8" font-weight="bold" fill="#17941a">b<tspan font-size="4.8">2</tspan></text></g>
<g transform="translate(407.10,86.2) scale(1.12,1)"><text font-size="8" font-weight="bold" fill="#17941a">b<tspan font-size="4.8">4</tspan></text></g>
<g transform="translate(427.10,86.2) scale(1.12,1)"><text font-size="8" font-weight="bold" fill="#17941a">b<tspan font-size="4.8">5</tspan></text></g>
<g transform="translate(447.10,86.2) scale(1.12,1)"><text font-size="8" font-weight="bold" fill="#17941a">b<tspan font-size="4.8">6</tspan></text></g>
<g transform="translate(467.10,86.2) scale(1.12,1)"><text font-size="8" font-weight="bold" fill="#17941a">b<tspan font-size="4.8">7</tspan></text></g>
<g transform="translate(487.10,86.2) scale(1.12,1)"><text font-size="8" font-weight="bold" fill="#17941a">b<tspan font-size="4.8">8</tspan></text></g>
<g transform="translate(507.10,86.2) scale(1.12,1)"><text font-size="8" font-weight="bold" fill="#17941a">b<tspan font-size="4.8">9</tspan></text></g>
<g transform="translate(527.10,86.2) scale(1.12,1)"><text font-size="8" font-weight="bold" fill="#17941a">b<tspan font-size="4.8">10</tspan></text></g>
<g transform="translate(536.90,50) scale(1.12,1)"><text font-size="8" font-weight="bold" fill="#ec8448">y<tspan font-size="4.8">37</tspan></text></g>
<g transform="translate(547.10,86.2) scale(1.12,1)"><text font-size="8" font-weight="bold" fill="#17941a">b<tspan font-size="4.8">11</tspan></text></g>
<g transform="translate(567.10,86.2) scale(1.12,1)"><text font-size="8" font-weight="bold" fill="#17941a">b<tspan font-size="4.8">12</tspan></text></g>
<g transform="translate(587.10,86.2) scale(1.12,1)"><text font-size="8" font-weight="bold" fill="#17941a">b<tspan font-size="4.8">13</tspan></text></g>
<g transform="translate(607.10,86.2) scale(1.12,1)"><text font-size="8" font-weight="bold" fill="#17941a">b<tspan font-size="4.8">14</tspan></text></g>
<g transform="translate(616.90,50) scale(1.12,1)"><text font-size="8" font-weight="bold" fill="#ec8448">y<tspan font-size="4.8">33</tspan></text></g>
<g transform="translate(627.10,86.2) scale(1.12,1)"><text font-size="8" font-weight="bold" fill="#17941a">b<tspan font-size="4.8">15</tspan></text></g>
<g transform="translate(647.10,86.2) scale(1.12,1)"><text font-size="8" font-weight="bold" fill="#17941a">b<tspan font-size="4.8">16</tspan></text></g>
<g transform="translate(687.10,86.2) scale(1.12,1)"><text font-size="8" font-weight="bold" fill="#17941a">b<tspan font-size="4.8">18</tspan></text></g>
<g transform="translate(707.10,86.2) scale(1.12,1)"><text font-size="8" font-weight="bold" fill="#17941a">b<tspan font-size="4.8">19</tspan></text></g>
<g transform="translate(747.10,86.2) scale(1.12,1)"><text font-size="8" font-weight="bold" fill="#17941a">b<tspan font-size="4.8">21</tspan></text></g>
<g transform="translate(787.10,86.2) scale(1.12,1)"><text font-size="8" font-weight="bold" fill="#17941a">b<tspan font-size="4.8">23</tspan></text></g>
<g transform="translate(807.10,86.2) scale(1.12,1)"><text font-size="8" font-weight="bold" fill="#17941a">b<tspan font-size="4.8">24</tspan></text></g>
<g transform="translate(847.10,86.2) scale(1.12,1)"><text font-size="8" font-weight="bold" fill="#17941a">b<tspan font-size="4.8">26</tspan></text></g>
<g transform="translate(907.10,86.2) scale(1.12,1)"><text font-size="8" font-weight="bold" fill="#17941a">b<tspan font-size="4.8">29</tspan></text></g>
<g transform="translate(927.10,86.2) scale(1.12,1)"><text font-size="8" font-weight="bold" fill="#17941a">b<tspan font-size="4.8">30</tspan></text></g>
<g transform="translate(936.90,50) scale(1.12,1)"><text font-size="8" font-weight="bold" fill="#ec8448">y<tspan font-size="4.8">17</tspan></text></g>
<g transform="translate(947.10,86.2) scale(1.12,1)"><text font-size="8" font-weight="bold" fill="#17941a">b<tspan font-size="4.8">31</tspan></text></g>
<g transform="translate(956.90,50) scale(1.12,1)"><text font-size="8" font-weight="bold" fill="#ec8448">y<tspan font-size="4.8">16</tspan></text></g>
<g transform="translate(976.90,50) scale(1.12,1)"><text font-size="8" font-weight="bold" fill="#ec8448">y<tspan font-size="4.8">15</tspan></text></g>
<g transform="translate(1116.90,50) scale(1.12,1)"><text font-size="8" font-weight="bold" fill="#ec8448">y<tspan font-size="4.8">8</tspan></text></g>
<g transform="translate(1156.90,50) scale(1.12,1)"><text font-size="8" font-weight="bold" fill="#ec8448">y<tspan font-size="4.8">6</tspan></text></g>
<g transform="translate(1176.90,50) scale(1.12,1)"><text font-size="8" font-weight="bold" fill="#ec8448">y<tspan font-size="4.8">5</tspan></text></g>
<g transform="translate(1216.90,50) scale(1.12,1)"><text font-size="8" font-weight="bold" fill="#ec8448">y<tspan font-size="4.8">3</tspan></text></g>
<g transform="translate(1236.90,50) scale(1.12,1)"><text font-size="8" font-weight="bold" fill="#ec8448">y<tspan font-size="4.8">2</tspan></text></g>
<g transform="translate(1256.90,50) scale(1.12,1)"><text font-size="8" font-weight="bold" fill="#ec8448">y<tspan font-size="4.8">1</tspan></text></g>
<path d="M352.70 58 V73.6 L348.30 77.6 M372.70 58 V73.6 L368.30 77.6 M412.70 58 V73.6 L408.30 77.6 M432.70 58 V73.6 L428.30 77.6 M452.70 58 V73.6 L448.30 77.6 M472.70 58 V73.6 L468.30 77.6 M492.70 58 V73.6 L488.30 77.6 M512.70 58 V73.6 L508.30 77.6 M536.90 53.8 L532.70 58 V73.6 L528.30 77.6 M552.70 58 V73.6 L548.30 77.6 M572.70 58 V73.6 L568.30 77.6 M592.70 58 V73.6 L588.30 77.6 M616.90 53.8 L612.70 58 V73.6 L608.30 77.6 M632.70 58 V73.6 L628.30 77.6 M652.70 58 V73.6 L648.30 77.6 M692.70 58 V73.6 L688.30 77.6 M712.70 58 V73.6 L708.30 77.6 M752.70 58 V73.6 L748.30 77.6 M792.70 58 V73.6 L788.30 77.6 M812.70 58 V73.6 L808.30 77.6 M852.70 58 V73.6 L848.30 77.6 M912.70 58 V73.6 L908.30 77.6 M936.90 53.8 L932.70 58 V73.6 L928.30 77.6 M956.90 53.8 L952.70 58 V73.6 L948.30 77.6 M976.90 53.8 L972.70 58 V73.6 M1116.90 53.8 L1112.70 58 V73.6 M1156.90 53.8 L1152.70 58 V73.6 M1176.90 53.8 L1172.70 58 V73.6 M1216.90 53.8 L1212.70 58 V73.6 M1236.90 53.8 L1232.70 58 V73.6 M1256.90 53.8 L1252.70 58 V73.6" stroke="#000" stroke-width="1" fill="none"/>
<rect x="67" y="5.6" width="884" height="18.7" fill="#fff"/>
<text x="68.5" y="19.8" style="font-family:Liberation Mono,monospace" font-size="13.33" fill="#20208c" xml:space="preserve">Locus:1.1.1.2106.6 File:"20181224_001_gel_CSB_2RD.wiff"   <tspan fill="#111">Seq:</tspan> KPGEHYTLQEVEEGLAQHKPVLLFLVHGESSTGVVQPLDGFGELCHR</text>
<g transform="translate(17.5,29.9) scale(1.12,1)"><text font-size="12.6" fill="#000">8.3e+03</text></g>
<g transform="translate(27.7,266) scale(1.12,1) rotate(-90)"><text font-size="12.5" font-weight="bold" fill="#000" xml:space="preserve">Relative   Intensity (%)</text></g>
<g transform="translate(650,455.7) scale(1.12,1)"><text font-size="13" font-weight="bold" text-anchor="middle" fill="#000">m/z</text></g></svg>
</body></html>
